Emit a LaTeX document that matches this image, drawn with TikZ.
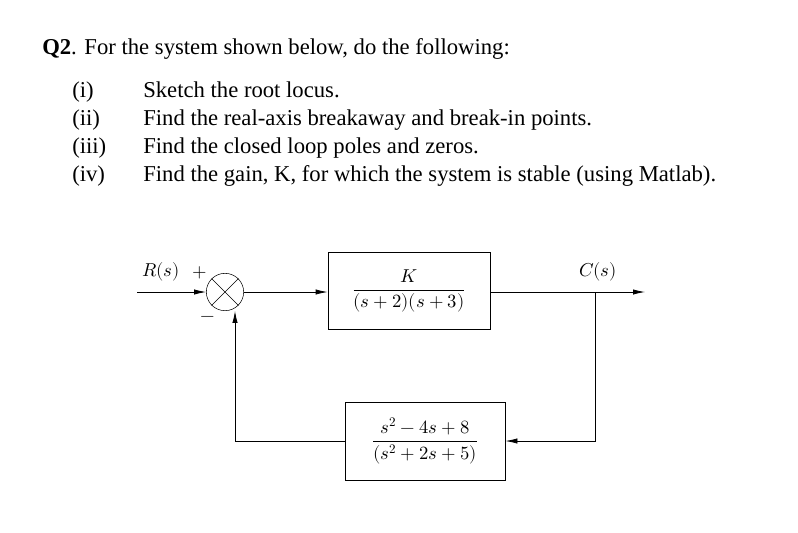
\documentclass[tikz,border=0pt]{standalone}
\usepackage{fontspec}
\setmainfont{Liberation Serif}
\usepackage{unicode-math}
\setmathfont{Latin Modern Math}
\usetikzlibrary{arrows.meta}
\begin{document}
\begin{tikzpicture}[x=0.75pt,y=-0.75pt,
  txt/.style={anchor=base west,inner sep=0,font=\fontsize{17}{20}\selectfont},
  mth/.style={font=\fontsize{14}{16}\selectfont},
  box/.style={draw,semithick},
  sig/.style={semithick,-{Latex[length=9pt,width=4pt]}}]
\useasboundingbox (0,0) rectangle (798,532);
\node[txt] (t) at (42,54) {\textbf{Q2}. For the system shown below, do the following:};
\node[txt] (la) at (72,97) {(i)};
\node[txt] (ia) at (143,97) {Sketch the root locus.};
\node[txt] (lb) at (72,125) {(ii)};
\node[txt] (ib) at (143,125) {Find the real-axis breakaway and break-in points.};
\node[txt] (lc) at (72,153) {(iii)};
\node[txt] (ic) at (143,153) {Find the closed loop poles and zeros.};
\node[txt] (ld) at (72,181) {(iv)};
\node[txt] (id) at (143,181) {Find the gain, K, for which the system is stable (using Matlab).};
\node[draw,circle,minimum size=28,inner sep=0] (sum) at (225,292) {};
\draw (sum.45) -- (sum.225) (sum.135) -- (sum.315);
\coordinate (in) at (137,292);
\node[mth] (R) at (161,272) {$R(s)$};
\node[mth] (plus) at (200,273) {$+$};
\node[mth] (minus) at (208,319) {$-$};
\node[box,minimum width=162*0.75pt,minimum height=77*0.75pt] (G) at (409,291) {};
\node[mth] (Gt) at (409,291) {$\dfrac{K}{(s+2)(s+3)}$};
\node[box,minimum width=160*0.75pt,minimum height=78*0.75pt] (H) at (425,441) {};
\node[mth] (Ht) at (425,441) {$\dfrac{s^2-4s+8}{(s^2+2s+5)}$};
\coordinate (out) at (645,292);
\coordinate (br) at (595,292);
\coordinate (fb) at (595,441);
\coordinate (fl) at (235,441);
\node[mth] (C) at (598,272) {$C(s)$};
\draw[sig] (in) -- (sum);
\draw[sig] (sum) -- (G.west|-sum);
\draw[sig] (G.east|-sum) -- (out);
\draw[sig] (br) -- (fb) -- (H.east);
\draw[sig] (H.west) -- (fl) -- (fl|-sum.south);
\end{tikzpicture}
\end{document}
